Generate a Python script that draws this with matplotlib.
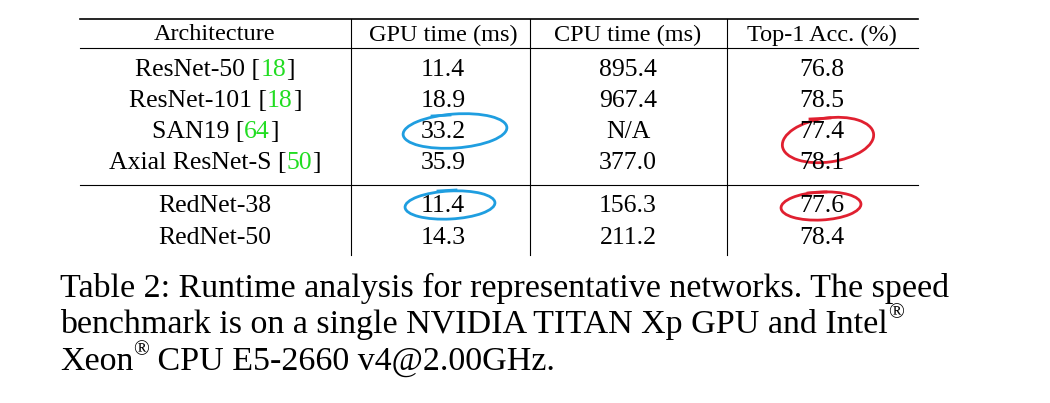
import matplotlib
matplotlib.use("Agg")
import matplotlib.pyplot as plt
from matplotlib.patches import Ellipse

plt.rcParams['font.family'] = ['Liberation Serif', 'DejaVu Serif']

headers = ["Architecture", "GPU time (ms)", "CPU time (ms)", "Top-1 Acc. (%)"]
arch = ["ResNet-50", "ResNet-101", "SAN19", "Axial ResNet-S", "RedNet-38", "RedNet-50"]
refs = ["18", "18", "64", "50", None, None]
gpu = ["11.4", "18.9", "33.2", "35.9", "11.4", "14.3"]
cpu = ["895.4", "967.4", "N/A", "377.0", "156.3", "211.2"]
acc = ["76.8", "78.5", "77.4", "78.1", "77.6", "78.4"]

fig = plt.figure(figsize=(10.5, 4.03), dpi=100)
ax = fig.add_axes([0, 0, 1, 1])
ax.set_xlim(0, 1050)
ax.set_ylim(403, 0)
ax.axis('off')

col_x = [215, 443, 628, 822]
row_y = [70, 101, 132, 163, 206, 238]
fs = 18.5
green = "#22dd22"

# rules
ax.plot([80, 918], [19, 19], color='black', lw=1.2)
ax.plot([80, 918], [48, 48], color='black', lw=0.8)
ax.plot([80, 918], [185, 185], color='black', lw=0.8)
for vx in [351, 530, 727]:
    ax.plot([vx, vx], [19, 255], color='black', lw=0.8)

for x, h in zip(col_x, headers):
    ax.text(x, 35, h, ha='center', va='center', fontsize=17.5)

fig.canvas.draw()
r = fig.canvas.get_renderer()

def width(s, size):
    t = ax.text(0, 0, s, fontsize=size)
    bb = t.get_window_extent(r)
    t.remove()
    return bb.width  # pixels == data units here

for i, y in enumerate(row_y):
    if refs[i]:
        parts = [(arch[i] + " [", 'black'), (refs[i], green), ("]", 'black')]
    else:
        parts = [(arch[i], 'black')]
    total = width("".join(p for p, _ in parts), fs)
    x = col_x[0] - total / 2
    for p, c in parts:
        ax.text(x, y, p, ha='left', va='center', fontsize=fs, color=c)
        x += width(p, fs)
    ax.text(col_x[1], y, gpu[i], ha='center', va='center', fontsize=fs)
    ax.text(col_x[2], y, cpu[i], ha='center', va='center', fontsize=fs)
    ax.text(col_x[3], y, acc[i], ha='center', va='center', fontsize=fs)

# hand annotations
blue = "#1f9ee0"
red = "#e02030"
ax.add_patch(Ellipse((455, 131), 104, 34, angle=-4, fill=False, ec=blue, lw=2))
ax.plot([432, 450], [116, 115], color=blue, lw=2)
ax.add_patch(Ellipse((450, 205), 90, 28, angle=-3, fill=False, ec=blue, lw=2))
ax.plot([438, 456], [191, 190], color=blue, lw=2)
ax.add_patch(Ellipse((828, 140), 92, 44, angle=-8, fill=False, ec=red, lw=2))
ax.plot([810, 830], [119, 118], color=red, lw=2)
ax.add_patch(Ellipse((821, 206), 80, 28, angle=-3, fill=False, ec=red, lw=2))
ax.plot([808, 826], [193, 192], color=red, lw=2)

# caption
cfs = 24.5
ax.text(60, 288, "Table 2: Runtime analysis for representative networks. The speed",
        ha='left', va='center', fontsize=cfs)
l2 = "benchmark is on a single NVIDIA TITAN Xp GPU and Intel"
ax.text(60, 325, l2, ha='left', va='center', fontsize=cfs)
ax.text(60 + width(l2, cfs), 314, "\u00ae", ha='left', va='center', fontsize=15)
ax.text(60, 362, "Xeon", ha='left', va='center', fontsize=cfs)
xw = 60 + width("Xeon", cfs)
ax.text(xw, 351, "\u00ae", ha='left', va='center', fontsize=15)
ax.text(xw + width("\u00ae", 15), 362, " CPU E5-2660 v4@2.00GHz.",
        ha='left', va='center', fontsize=cfs)

fig.savefig("out.png", dpi=100)
